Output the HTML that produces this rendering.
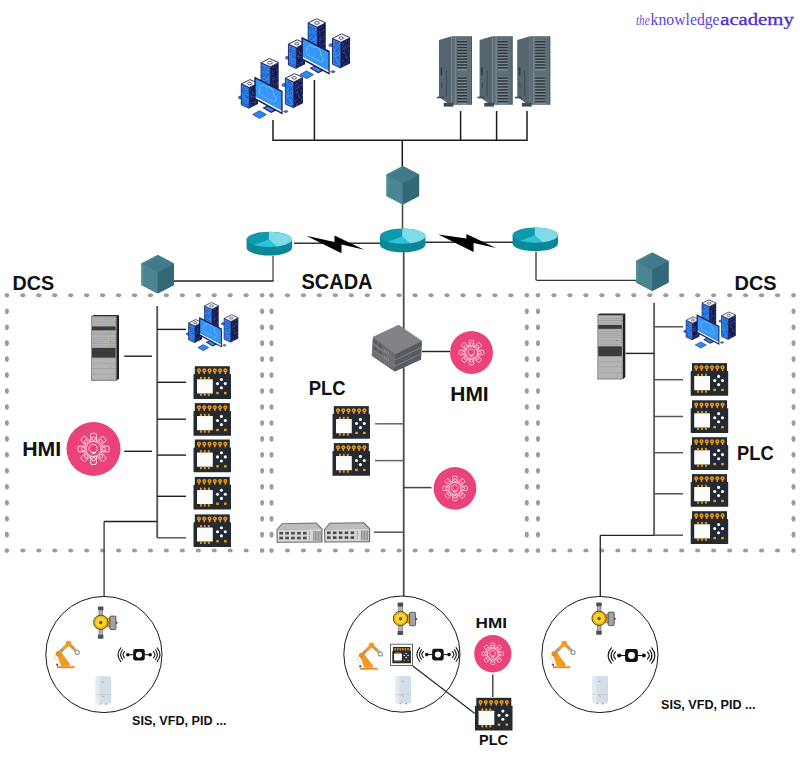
<!DOCTYPE html>
<html><head><meta charset="utf-8"><style>
html,body{margin:0;padding:0;background:#fff;}
svg{display:block;}
text{font-family:"Liberation Sans",sans-serif;}
</style></head><body>
<svg width="800" height="768" viewBox="0 0 800 768">
<defs><g id="plc"><rect x="1.3" y="0.3" width="35" height="9" fill="#242a32"/><rect x="0" y="8.2" width="37.5" height="24.8" rx="0.6" fill="#242a32"/><rect x="4.75" y="4.5" width="1.5" height="3.6" fill="#f39b13"/><circle cx="5.50" cy="4.5" r="2.05" fill="#f39b13"/><circle cx="5.50" cy="4.5" r="0.6" fill="#2a2a2a"/><rect x="10.02" y="4.5" width="1.5" height="3.6" fill="#f39b13"/><circle cx="10.77" cy="4.5" r="2.05" fill="#f39b13"/><circle cx="10.77" cy="4.5" r="0.6" fill="#2a2a2a"/><rect x="15.29" y="4.5" width="1.5" height="3.6" fill="#f39b13"/><circle cx="16.04" cy="4.5" r="2.05" fill="#f39b13"/><circle cx="16.04" cy="4.5" r="0.6" fill="#2a2a2a"/><rect x="20.56" y="4.5" width="1.5" height="3.6" fill="#f39b13"/><circle cx="21.31" cy="4.5" r="2.05" fill="#f39b13"/><circle cx="21.31" cy="4.5" r="0.6" fill="#2a2a2a"/><rect x="25.83" y="4.5" width="1.5" height="3.6" fill="#f39b13"/><circle cx="26.58" cy="4.5" r="2.05" fill="#f39b13"/><circle cx="26.58" cy="4.5" r="0.6" fill="#2a2a2a"/><rect x="31.10" y="4.5" width="1.5" height="3.6" fill="#f39b13"/><circle cx="31.85" cy="4.5" r="2.05" fill="#f39b13"/><circle cx="31.85" cy="4.5" r="0.6" fill="#2a2a2a"/><rect x="3.5" y="13.3" width="15.8" height="14.2" rx="0.5" fill="#fdfdfd"/><rect x="6.50" y="11.0" width="1.8" height="2.4" fill="#f39b13"/><rect x="6.50" y="27.5" width="1.8" height="2.4" fill="#f39b13"/><rect x="10.40" y="11.0" width="1.8" height="2.4" fill="#f39b13"/><rect x="10.40" y="27.5" width="1.8" height="2.4" fill="#f39b13"/><rect x="14.40" y="11.0" width="1.8" height="2.4" fill="#f39b13"/><rect x="14.40" y="27.5" width="1.8" height="2.4" fill="#f39b13"/><circle cx="27.9" cy="13.6" r="1.55" fill="#fdfdfd"/><circle cx="24" cy="17.7" r="1.55" fill="#fdfdfd"/><circle cx="31.8" cy="17.7" r="1.55" fill="#fdfdfd"/><circle cx="27.9" cy="21.8" r="1.55" fill="#fdfdfd"/><rect x="22.7" y="26" width="2.6" height="2.3" fill="#f39b13"/><rect x="30.5" y="26" width="2.6" height="2.3" fill="#f39b13"/></g><g id="hmi"><circle cx="0" cy="0" r="27" fill="#e9437a"/><g fill="none" stroke="#ffffff" stroke-width="0.85" stroke-opacity="0.95"><rect x="-2.9" y="-15.6" width="5.8" height="8.8" rx="1.4" transform="rotate(0)"/><circle cx="0" cy="-10.3" r="1.8" transform="rotate(0)"/><rect x="-2.9" y="-15.6" width="5.8" height="8.8" rx="1.4" transform="rotate(45)"/><circle cx="0" cy="-10.3" r="1.8" transform="rotate(45)"/><rect x="-2.9" y="-15.6" width="5.8" height="8.8" rx="1.4" transform="rotate(90)"/><circle cx="0" cy="-10.3" r="1.8" transform="rotate(90)"/><rect x="-2.9" y="-15.6" width="5.8" height="8.8" rx="1.4" transform="rotate(135)"/><circle cx="0" cy="-10.3" r="1.8" transform="rotate(135)"/><rect x="-2.9" y="-15.6" width="5.8" height="8.8" rx="1.4" transform="rotate(180)"/><circle cx="0" cy="-10.3" r="1.8" transform="rotate(180)"/><rect x="-2.9" y="-15.6" width="5.8" height="8.8" rx="1.4" transform="rotate(225)"/><circle cx="0" cy="-10.3" r="1.8" transform="rotate(225)"/><rect x="-2.9" y="-15.6" width="5.8" height="8.8" rx="1.4" transform="rotate(270)"/><circle cx="0" cy="-10.3" r="1.8" transform="rotate(270)"/><rect x="-2.9" y="-15.6" width="5.8" height="8.8" rx="1.4" transform="rotate(315)"/><circle cx="0" cy="-10.3" r="1.8" transform="rotate(315)"/><circle cx="0" cy="0" r="7.6" fill="#e9437a"/><circle cx="-0.3" cy="-0.5" r="4.2"/><path d="M-2.2 3.6 L2.4 3.6 M-1.2 4.8 L1.6 4.8"/></g></g><g id="ws"><ellipse cx="1.9" cy="32" rx="1.7" ry="1.2" fill="#2e86f2" stroke="#1b1a4c" stroke-width="0.4"/><path d="M18.50 3.90 L25.90 7.23 L25.90 28.23 L18.50 24.90Z" fill="#2e86f2" stroke="#1b1a4c" stroke-width="0.7"/><path d="M25.90 7.23 L32.70 3.83 L32.70 24.83 L25.90 28.23Z" fill="#1b1a4c"/><rect x="21.11" y="8.84" width="0.55" height="0.55" fill="#1d3f9a"/><rect x="23.14" y="8.44" width="0.55" height="0.55" fill="#1d3f9a"/><rect x="22.42" y="13.63" width="0.55" height="0.55" fill="#1d3f9a"/><rect x="19.46" y="14.73" width="0.55" height="0.55" fill="#1d3f9a"/><rect x="19.33" y="13.26" width="0.55" height="0.55" fill="#1d3f9a"/><rect x="19.53" y="6.86" width="0.55" height="0.55" fill="#1d3f9a"/><rect x="21.73" y="22.02" width="0.55" height="0.55" fill="#1d3f9a"/><rect x="19.87" y="9.55" width="0.55" height="0.55" fill="#1d3f9a"/><rect x="22.99" y="25.00" width="0.55" height="0.55" fill="#1d3f9a"/><rect x="22.68" y="14.36" width="0.55" height="0.55" fill="#1d3f9a"/><rect x="25.15" y="9.04" width="0.55" height="0.55" fill="#1d3f9a"/><rect x="24.42" y="13.26" width="0.55" height="0.55" fill="#1d3f9a"/><rect x="19.99" y="7.62" width="0.55" height="0.55" fill="#1d3f9a"/><rect x="21.01" y="21.43" width="0.55" height="0.55" fill="#1d3f9a"/><rect x="20.22" y="16.55" width="0.55" height="0.55" fill="#1d3f9a"/><rect x="23.06" y="14.10" width="0.55" height="0.55" fill="#1d3f9a"/><rect x="22.50" y="7.92" width="0.55" height="0.55" fill="#1d3f9a"/><rect x="19.47" y="9.01" width="0.55" height="0.55" fill="#1d3f9a"/><rect x="23.32" y="15.29" width="0.55" height="0.55" fill="#1d3f9a"/><rect x="21.05" y="17.07" width="0.55" height="0.55" fill="#1d3f9a"/><rect x="21.91" y="12.10" width="0.55" height="0.55" fill="#1d3f9a"/><rect x="24.03" y="20.83" width="0.55" height="0.55" fill="#1d3f9a"/><rect x="20.61" y="16.63" width="0.55" height="0.55" fill="#1d3f9a"/><rect x="22.36" y="23.28" width="0.55" height="0.55" fill="#1d3f9a"/><rect x="23.62" y="12.80" width="0.55" height="0.55" fill="#1d3f9a"/><rect x="25.18" y="10.41" width="0.55" height="0.55" fill="#1d3f9a"/><rect x="21.69" y="20.68" width="0.55" height="0.55" fill="#1d3f9a"/><rect x="20.04" y="14.70" width="0.55" height="0.55" fill="#1d3f9a"/><rect x="19.34" y="17.73" width="0.55" height="0.55" fill="#1d3f9a"/><rect x="23.84" y="18.33" width="0.55" height="0.55" fill="#1d3f9a"/><rect x="24.53" y="13.78" width="0.55" height="0.55" fill="#1d3f9a"/><rect x="23.41" y="18.51" width="0.55" height="0.55" fill="#1d3f9a"/><rect x="22.70" y="15.50" width="0.55" height="0.55" fill="#1d3f9a"/><rect x="24.31" y="25.65" width="0.55" height="0.55" fill="#1d3f9a"/><rect x="22.04" y="19.10" width="0.55" height="0.55" fill="#1d3f9a"/><rect x="19.48" y="18.43" width="0.55" height="0.55" fill="#1d3f9a"/><rect x="23.11" y="25.92" width="0.55" height="0.55" fill="#1d3f9a"/><rect x="24.20" y="13.04" width="0.55" height="0.55" fill="#1d3f9a"/><rect x="21.49" y="18.89" width="0.55" height="0.55" fill="#1d3f9a"/><rect x="19.24" y="13.75" width="0.55" height="0.55" fill="#1d3f9a"/><rect x="20.14" y="7.68" width="0.55" height="0.55" fill="#1d3f9a"/><rect x="19.47" y="19.69" width="0.55" height="0.55" fill="#1d3f9a"/><rect x="19.90" y="10.04" width="0.55" height="0.55" fill="#1d3f9a"/><rect x="21.52" y="22.76" width="0.55" height="0.55" fill="#1d3f9a"/><rect x="19.60" y="13.70" width="0.55" height="0.55" fill="#1d3f9a"/><rect x="22.51" y="23.51" width="0.55" height="0.55" fill="#1d3f9a"/><rect x="24.18" y="24.04" width="0.55" height="0.55" fill="#1d3f9a"/><rect x="20.83" y="13.72" width="0.55" height="0.55" fill="#1d3f9a"/><rect x="21.32" y="22.89" width="0.55" height="0.55" fill="#1d3f9a"/><rect x="25.04" y="10.96" width="0.55" height="0.55" fill="#1d3f9a"/><rect x="20.19" y="9.89" width="0.55" height="0.55" fill="#1d3f9a"/><rect x="20.55" y="14.89" width="0.55" height="0.55" fill="#1d3f9a"/><rect x="22.75" y="11.85" width="0.55" height="0.55" fill="#1d3f9a"/><rect x="19.13" y="12.87" width="0.55" height="0.55" fill="#1d3f9a"/><rect x="21.39" y="16.89" width="0.55" height="0.55" fill="#1d3f9a"/><rect x="25.01" y="21.19" width="0.55" height="0.55" fill="#1d3f9a"/><rect x="22.30" y="18.35" width="0.55" height="0.55" fill="#1d3f9a"/><rect x="23.29" y="8.18" width="0.55" height="0.55" fill="#1d3f9a"/><rect x="24.68" y="22.71" width="0.55" height="0.55" fill="#1d3f9a"/><rect x="24.52" y="22.97" width="0.55" height="0.55" fill="#1d3f9a"/><rect x="21.53" y="13.79" width="0.55" height="0.55" fill="#1d3f9a"/><rect x="19.74" y="17.30" width="0.55" height="0.55" fill="#1d3f9a"/><rect x="19.49" y="6.39" width="0.55" height="0.55" fill="#1d3f9a"/><rect x="20.39" y="8.68" width="0.55" height="0.55" fill="#1d3f9a"/><rect x="21.21" y="7.03" width="0.55" height="0.55" fill="#1d3f9a"/><rect x="19.10" y="7.77" width="0.55" height="0.55" fill="#1d3f9a"/><rect x="19.73" y="12.15" width="0.55" height="0.55" fill="#1d3f9a"/><rect x="19.26" y="21.60" width="0.55" height="0.55" fill="#1d3f9a"/><rect x="22.91" y="9.77" width="0.55" height="0.55" fill="#1d3f9a"/><rect x="20.66" y="12.34" width="0.55" height="0.55" fill="#1d3f9a"/><rect x="21.36" y="8.45" width="0.55" height="0.55" fill="#1d3f9a"/><rect x="24.36" y="26.60" width="0.55" height="0.55" fill="#1d3f9a"/><rect x="21.99" y="15.64" width="0.55" height="0.55" fill="#1d3f9a"/><rect x="19.63" y="7.13" width="0.55" height="0.55" fill="#1d3f9a"/><rect x="21.22" y="11.07" width="0.55" height="0.55" fill="#1d3f9a"/><rect x="24.24" y="10.73" width="0.55" height="0.55" fill="#1d3f9a"/><rect x="19.24" y="23.05" width="0.55" height="0.55" fill="#1d3f9a"/><rect x="22.38" y="9.44" width="0.55" height="0.55" fill="#1d3f9a"/><rect x="22.47" y="7.22" width="0.55" height="0.55" fill="#1d3f9a"/><rect x="22.37" y="25.25" width="0.55" height="0.55" fill="#1d3f9a"/><rect x="24.45" y="21.00" width="0.55" height="0.55" fill="#1d3f9a"/><rect x="20.72" y="12.74" width="0.55" height="0.55" fill="#1d3f9a"/><rect x="20.14" y="20.12" width="0.55" height="0.55" fill="#1d3f9a"/><rect x="22.40" y="21.48" width="0.55" height="0.55" fill="#1d3f9a"/><rect x="21.14" y="10.24" width="0.55" height="0.55" fill="#1d3f9a"/><rect x="31.04" y="24.18" width="0.6" height="0.6" fill="#3466d0"/><rect x="31.27" y="20.65" width="0.6" height="0.6" fill="#3466d0"/><rect x="31.08" y="19.51" width="0.6" height="0.6" fill="#3466d0"/><rect x="27.77" y="17.29" width="0.6" height="0.6" fill="#3466d0"/><rect x="28.49" y="7.57" width="0.6" height="0.6" fill="#3466d0"/><rect x="26.66" y="13.44" width="0.6" height="0.6" fill="#3466d0"/><rect x="27.95" y="20.51" width="0.6" height="0.6" fill="#3466d0"/><rect x="31.86" y="13.48" width="0.6" height="0.6" fill="#3466d0"/><rect x="31.75" y="23.82" width="0.6" height="0.6" fill="#3466d0"/><rect x="31.85" y="11.91" width="0.6" height="0.6" fill="#3466d0"/><rect x="27.73" y="11.79" width="0.6" height="0.6" fill="#3466d0"/><rect x="27.60" y="11.44" width="0.6" height="0.6" fill="#3466d0"/><rect x="29.99" y="23.21" width="0.6" height="0.6" fill="#3466d0"/><rect x="31.21" y="14.48" width="0.6" height="0.6" fill="#3466d0"/><rect x="30.16" y="21.20" width="0.6" height="0.6" fill="#3466d0"/><rect x="26.97" y="20.49" width="0.6" height="0.6" fill="#3466d0"/><rect x="31.59" y="20.00" width="0.6" height="0.6" fill="#3466d0"/><rect x="30.70" y="14.76" width="0.6" height="0.6" fill="#3466d0"/><rect x="27.50" y="22.62" width="0.6" height="0.6" fill="#3466d0"/><rect x="28.36" y="22.32" width="0.6" height="0.6" fill="#3466d0"/><rect x="31.94" y="12.45" width="0.6" height="0.6" fill="#3466d0"/><rect x="28.75" y="24.85" width="0.6" height="0.6" fill="#3466d0"/><rect x="30.56" y="9.00" width="0.6" height="0.6" fill="#3466d0"/><rect x="27.21" y="10.67" width="0.6" height="0.6" fill="#3466d0"/><rect x="31.57" y="20.48" width="0.6" height="0.6" fill="#3466d0"/><rect x="27.32" y="23.44" width="0.6" height="0.6" fill="#3466d0"/><rect x="31.99" y="17.39" width="0.6" height="0.6" fill="#3466d0"/><rect x="28.46" y="17.46" width="0.6" height="0.6" fill="#3466d0"/><rect x="27.23" y="8.06" width="0.6" height="0.6" fill="#3466d0"/><rect x="31.94" y="17.27" width="0.6" height="0.6" fill="#3466d0"/><rect x="29.45" y="24.18" width="0.6" height="0.6" fill="#3466d0"/><rect x="28.93" y="23.32" width="0.6" height="0.6" fill="#3466d0"/><rect x="31.13" y="9.43" width="0.6" height="0.6" fill="#3466d0"/><rect x="27.91" y="12.94" width="0.6" height="0.6" fill="#3466d0"/><rect x="27.85" y="18.55" width="0.6" height="0.6" fill="#3466d0"/><rect x="27.95" y="15.31" width="0.6" height="0.6" fill="#3466d0"/><rect x="27.23" y="25.07" width="0.6" height="0.6" fill="#3466d0"/><rect x="28.48" y="15.73" width="0.6" height="0.6" fill="#3466d0"/><rect x="29.77" y="23.43" width="0.6" height="0.6" fill="#3466d0"/><rect x="28.86" y="24.24" width="0.6" height="0.6" fill="#3466d0"/><rect x="29.31" y="16.63" width="0.6" height="0.6" fill="#3466d0"/><rect x="29.43" y="6.81" width="0.6" height="0.6" fill="#3466d0"/><rect x="28.96" y="10.21" width="0.6" height="0.6" fill="#3466d0"/><rect x="26.52" y="23.40" width="0.6" height="0.6" fill="#3466d0"/><rect x="27.47" y="16.64" width="0.6" height="0.6" fill="#3466d0"/><rect x="30.56" y="16.34" width="0.6" height="0.6" fill="#3466d0"/><rect x="28.33" y="16.97" width="0.6" height="0.6" fill="#3466d0"/><rect x="29.61" y="21.24" width="0.6" height="0.6" fill="#3466d0"/><rect x="27.09" y="18.51" width="0.6" height="0.6" fill="#3466d0"/><path d="M18.50 3.90 L25.90 7.23 L32.70 3.83 L25.30 0.50Z" fill="#f5f7fd" stroke="#1b1a4c" stroke-width="0.7" stroke-linejoin="round"/><ellipse cx="25.60" cy="3.87" rx="1.92" ry="1.11" fill="none" stroke="#1b1a4c" stroke-width="0.55"/><path d="M2.60 21.00 L9.00 23.88 L9.00 40.68 L2.60 37.80Z" fill="#2e86f2" stroke="#1b1a4c" stroke-width="0.7"/><path d="M9.00 23.88 L16.00 20.38 L16.00 37.18 L9.00 40.68Z" fill="#1b1a4c"/><rect x="4.49" y="26.81" width="0.55" height="0.55" fill="#1d3f9a"/><rect x="7.22" y="31.74" width="0.55" height="0.55" fill="#1d3f9a"/><rect x="6.12" y="34.87" width="0.55" height="0.55" fill="#1d3f9a"/><rect x="7.94" y="31.19" width="0.55" height="0.55" fill="#1d3f9a"/><rect x="6.39" y="31.25" width="0.55" height="0.55" fill="#1d3f9a"/><rect x="5.86" y="33.73" width="0.55" height="0.55" fill="#1d3f9a"/><rect x="5.55" y="31.20" width="0.55" height="0.55" fill="#1d3f9a"/><rect x="5.69" y="37.31" width="0.55" height="0.55" fill="#1d3f9a"/><rect x="6.84" y="36.99" width="0.55" height="0.55" fill="#1d3f9a"/><rect x="8.10" y="28.56" width="0.55" height="0.55" fill="#1d3f9a"/><rect x="6.11" y="37.57" width="0.55" height="0.55" fill="#1d3f9a"/><rect x="7.57" y="26.45" width="0.55" height="0.55" fill="#1d3f9a"/><rect x="3.83" y="28.89" width="0.55" height="0.55" fill="#1d3f9a"/><rect x="3.58" y="25.77" width="0.55" height="0.55" fill="#1d3f9a"/><rect x="3.58" y="32.12" width="0.55" height="0.55" fill="#1d3f9a"/><rect x="7.28" y="37.53" width="0.55" height="0.55" fill="#1d3f9a"/><rect x="4.00" y="33.04" width="0.55" height="0.55" fill="#1d3f9a"/><rect x="6.63" y="26.02" width="0.55" height="0.55" fill="#1d3f9a"/><rect x="7.79" y="38.86" width="0.55" height="0.55" fill="#1d3f9a"/><rect x="4.34" y="36.73" width="0.55" height="0.55" fill="#1d3f9a"/><rect x="5.27" y="30.36" width="0.55" height="0.55" fill="#1d3f9a"/><rect x="8.35" y="37.17" width="0.55" height="0.55" fill="#1d3f9a"/><rect x="4.04" y="28.85" width="0.55" height="0.55" fill="#1d3f9a"/><rect x="5.88" y="28.50" width="0.55" height="0.55" fill="#1d3f9a"/><rect x="4.22" y="27.28" width="0.55" height="0.55" fill="#1d3f9a"/><rect x="6.96" y="24.37" width="0.55" height="0.55" fill="#1d3f9a"/><rect x="6.08" y="30.11" width="0.55" height="0.55" fill="#1d3f9a"/><rect x="3.29" y="26.96" width="0.55" height="0.55" fill="#1d3f9a"/><rect x="6.44" y="31.38" width="0.55" height="0.55" fill="#1d3f9a"/><rect x="3.53" y="36.76" width="0.55" height="0.55" fill="#1d3f9a"/><rect x="7.30" y="38.65" width="0.55" height="0.55" fill="#1d3f9a"/><rect x="3.74" y="26.23" width="0.55" height="0.55" fill="#1d3f9a"/><rect x="3.41" y="33.64" width="0.55" height="0.55" fill="#1d3f9a"/><rect x="4.61" y="24.70" width="0.55" height="0.55" fill="#1d3f9a"/><rect x="5.40" y="36.71" width="0.55" height="0.55" fill="#1d3f9a"/><rect x="7.46" y="28.19" width="0.55" height="0.55" fill="#1d3f9a"/><rect x="3.98" y="36.03" width="0.55" height="0.55" fill="#1d3f9a"/><rect x="6.17" y="34.01" width="0.55" height="0.55" fill="#1d3f9a"/><rect x="3.67" y="23.11" width="0.55" height="0.55" fill="#1d3f9a"/><rect x="6.78" y="30.28" width="0.55" height="0.55" fill="#1d3f9a"/><rect x="3.58" y="36.10" width="0.55" height="0.55" fill="#1d3f9a"/><rect x="6.50" y="35.69" width="0.55" height="0.55" fill="#1d3f9a"/><rect x="3.64" y="34.91" width="0.55" height="0.55" fill="#1d3f9a"/><rect x="3.55" y="34.96" width="0.55" height="0.55" fill="#1d3f9a"/><rect x="5.56" y="28.33" width="0.55" height="0.55" fill="#1d3f9a"/><rect x="6.08" y="37.31" width="0.55" height="0.55" fill="#1d3f9a"/><rect x="4.59" y="24.68" width="0.55" height="0.55" fill="#1d3f9a"/><rect x="5.94" y="27.05" width="0.55" height="0.55" fill="#1d3f9a"/><rect x="3.77" y="24.70" width="0.55" height="0.55" fill="#1d3f9a"/><rect x="3.46" y="25.13" width="0.55" height="0.55" fill="#1d3f9a"/><rect x="4.82" y="27.41" width="0.55" height="0.55" fill="#1d3f9a"/><rect x="7.15" y="28.48" width="0.55" height="0.55" fill="#1d3f9a"/><rect x="5.80" y="26.07" width="0.55" height="0.55" fill="#1d3f9a"/><rect x="5.00" y="23.27" width="0.55" height="0.55" fill="#1d3f9a"/><rect x="4.50" y="22.95" width="0.55" height="0.55" fill="#1d3f9a"/><rect x="7.01" y="32.27" width="0.55" height="0.55" fill="#1d3f9a"/><rect x="4.19" y="29.57" width="0.55" height="0.55" fill="#1d3f9a"/><rect x="8.06" y="26.26" width="0.55" height="0.55" fill="#1d3f9a"/><rect x="7.46" y="30.75" width="0.55" height="0.55" fill="#1d3f9a"/><rect x="12.47" y="35.50" width="0.6" height="0.6" fill="#3466d0"/><rect x="11.88" y="31.00" width="0.6" height="0.6" fill="#3466d0"/><rect x="13.59" y="37.01" width="0.6" height="0.6" fill="#3466d0"/><rect x="11.59" y="36.00" width="0.6" height="0.6" fill="#3466d0"/><rect x="13.70" y="31.82" width="0.6" height="0.6" fill="#3466d0"/><rect x="11.95" y="28.61" width="0.6" height="0.6" fill="#3466d0"/><rect x="9.92" y="26.61" width="0.6" height="0.6" fill="#3466d0"/><rect x="10.01" y="35.60" width="0.6" height="0.6" fill="#3466d0"/><rect x="11.08" y="26.40" width="0.6" height="0.6" fill="#3466d0"/><rect x="10.09" y="37.04" width="0.6" height="0.6" fill="#3466d0"/><rect x="14.65" y="31.76" width="0.6" height="0.6" fill="#3466d0"/><rect x="11.24" y="27.48" width="0.6" height="0.6" fill="#3466d0"/><rect x="11.30" y="30.65" width="0.6" height="0.6" fill="#3466d0"/><rect x="10.51" y="30.93" width="0.6" height="0.6" fill="#3466d0"/><rect x="11.13" y="38.19" width="0.6" height="0.6" fill="#3466d0"/><rect x="15.24" y="29.57" width="0.6" height="0.6" fill="#3466d0"/><rect x="11.02" y="38.32" width="0.6" height="0.6" fill="#3466d0"/><rect x="11.40" y="29.07" width="0.6" height="0.6" fill="#3466d0"/><rect x="9.61" y="30.52" width="0.6" height="0.6" fill="#3466d0"/><rect x="12.35" y="30.66" width="0.6" height="0.6" fill="#3466d0"/><rect x="10.77" y="31.65" width="0.6" height="0.6" fill="#3466d0"/><rect x="9.63" y="28.77" width="0.6" height="0.6" fill="#3466d0"/><rect x="10.12" y="30.48" width="0.6" height="0.6" fill="#3466d0"/><rect x="9.84" y="25.07" width="0.6" height="0.6" fill="#3466d0"/><rect x="11.36" y="27.26" width="0.6" height="0.6" fill="#3466d0"/><rect x="13.00" y="30.66" width="0.6" height="0.6" fill="#3466d0"/><rect x="13.95" y="31.98" width="0.6" height="0.6" fill="#3466d0"/><rect x="13.75" y="35.38" width="0.6" height="0.6" fill="#3466d0"/><rect x="11.86" y="28.34" width="0.6" height="0.6" fill="#3466d0"/><rect x="15.31" y="23.65" width="0.6" height="0.6" fill="#3466d0"/><rect x="13.80" y="31.87" width="0.6" height="0.6" fill="#3466d0"/><rect x="9.85" y="37.09" width="0.6" height="0.6" fill="#3466d0"/><rect x="14.77" y="31.04" width="0.6" height="0.6" fill="#3466d0"/><rect x="13.86" y="34.33" width="0.6" height="0.6" fill="#3466d0"/><rect x="10.41" y="32.14" width="0.6" height="0.6" fill="#3466d0"/><rect x="12.53" y="35.47" width="0.6" height="0.6" fill="#3466d0"/><rect x="14.27" y="34.29" width="0.6" height="0.6" fill="#3466d0"/><rect x="12.99" y="36.05" width="0.6" height="0.6" fill="#3466d0"/><rect x="13.56" y="32.75" width="0.6" height="0.6" fill="#3466d0"/><rect x="10.93" y="24.54" width="0.6" height="0.6" fill="#3466d0"/><rect x="10.37" y="29.75" width="0.6" height="0.6" fill="#3466d0"/><path d="M2.60 21.00 L9.00 23.88 L16.00 20.38 L9.60 17.50Z" fill="#f5f7fd" stroke="#1b1a4c" stroke-width="0.7" stroke-linejoin="round"/><ellipse cx="9.30" cy="20.69" rx="1.66" ry="0.96" fill="none" stroke="#1b1a4c" stroke-width="0.55"/><ellipse cx="37" cy="21.8" rx="1.7" ry="1.2" fill="#2e86f2" stroke="#1b1a4c" stroke-width="0.4"/><path d="M19.6 40.2 L24.2 38.2 L31.2 42.2 L26.6 44.4Z" fill="#1b1a4c"/><path d="M21.2 40.3 L24.2 39.1 L29.4 42.1 L26.5 43.4Z" fill="#2e86f2"/><path d="M13.1 15.0 L35.9 26.6 L35.9 45.6 L13.1 33.4Z" fill="#1b1a4c"/><path d="M14.2 31.0 L34.9 42.1 L34.9 43.9 L14.2 32.6Z" fill="#eef2fc"/><path d="M14.2 16.9 L34.9 27.5 L34.9 42.3 L14.2 31.2Z" fill="#3597f7"/><path d="M17.5 25 C18 21.5 21 21 23 23.5 C26 22.5 29.5 26 28.5 30 C31 31 31.5 35 29 35.5 L19.5 30.5 C17 29.5 16.5 26.5 17.5 25Z" fill="none" stroke="#a9d6ff" stroke-width="0.6" stroke-dasharray="0.9 0.5"/><path d="M38.10 16.40 L44.90 19.46 L44.90 40.26 L38.10 37.20Z" fill="#2e86f2" stroke="#1b1a4c" stroke-width="0.7"/><path d="M44.90 19.46 L52.30 15.76 L52.30 36.56 L44.90 40.26Z" fill="#1b1a4c"/><rect x="39.29" y="33.43" width="0.55" height="0.55" fill="#1d3f9a"/><rect x="41.83" y="30.91" width="0.55" height="0.55" fill="#1d3f9a"/><rect x="42.21" y="32.11" width="0.55" height="0.55" fill="#1d3f9a"/><rect x="41.44" y="18.96" width="0.55" height="0.55" fill="#1d3f9a"/><rect x="43.17" y="33.91" width="0.55" height="0.55" fill="#1d3f9a"/><rect x="41.52" y="29.00" width="0.55" height="0.55" fill="#1d3f9a"/><rect x="42.39" y="20.66" width="0.55" height="0.55" fill="#1d3f9a"/><rect x="42.83" y="24.40" width="0.55" height="0.55" fill="#1d3f9a"/><rect x="39.12" y="22.62" width="0.55" height="0.55" fill="#1d3f9a"/><rect x="42.78" y="23.49" width="0.55" height="0.55" fill="#1d3f9a"/><rect x="42.84" y="38.01" width="0.55" height="0.55" fill="#1d3f9a"/><rect x="41.47" y="26.10" width="0.55" height="0.55" fill="#1d3f9a"/><rect x="41.38" y="31.72" width="0.55" height="0.55" fill="#1d3f9a"/><rect x="43.00" y="31.35" width="0.55" height="0.55" fill="#1d3f9a"/><rect x="42.30" y="20.82" width="0.55" height="0.55" fill="#1d3f9a"/><rect x="39.53" y="22.63" width="0.55" height="0.55" fill="#1d3f9a"/><rect x="42.86" y="25.40" width="0.55" height="0.55" fill="#1d3f9a"/><rect x="41.88" y="19.37" width="0.55" height="0.55" fill="#1d3f9a"/><rect x="39.04" y="22.64" width="0.55" height="0.55" fill="#1d3f9a"/><rect x="42.46" y="32.47" width="0.55" height="0.55" fill="#1d3f9a"/><rect x="42.48" y="24.94" width="0.55" height="0.55" fill="#1d3f9a"/><rect x="41.59" y="27.72" width="0.55" height="0.55" fill="#1d3f9a"/><rect x="41.31" y="21.05" width="0.55" height="0.55" fill="#1d3f9a"/><rect x="43.70" y="23.88" width="0.55" height="0.55" fill="#1d3f9a"/><rect x="44.18" y="37.99" width="0.55" height="0.55" fill="#1d3f9a"/><rect x="38.80" y="26.08" width="0.55" height="0.55" fill="#1d3f9a"/><rect x="43.29" y="38.11" width="0.55" height="0.55" fill="#1d3f9a"/><rect x="41.22" y="23.83" width="0.55" height="0.55" fill="#1d3f9a"/><rect x="39.88" y="35.82" width="0.55" height="0.55" fill="#1d3f9a"/><rect x="39.88" y="28.98" width="0.55" height="0.55" fill="#1d3f9a"/><rect x="39.49" y="27.69" width="0.55" height="0.55" fill="#1d3f9a"/><rect x="44.04" y="22.81" width="0.55" height="0.55" fill="#1d3f9a"/><rect x="43.29" y="29.47" width="0.55" height="0.55" fill="#1d3f9a"/><rect x="43.67" y="33.34" width="0.55" height="0.55" fill="#1d3f9a"/><rect x="40.00" y="34.98" width="0.55" height="0.55" fill="#1d3f9a"/><rect x="41.42" y="19.35" width="0.55" height="0.55" fill="#1d3f9a"/><rect x="38.72" y="26.65" width="0.55" height="0.55" fill="#1d3f9a"/><rect x="41.22" y="24.46" width="0.55" height="0.55" fill="#1d3f9a"/><rect x="39.49" y="24.30" width="0.55" height="0.55" fill="#1d3f9a"/><rect x="40.47" y="34.16" width="0.55" height="0.55" fill="#1d3f9a"/><rect x="38.71" y="31.52" width="0.55" height="0.55" fill="#1d3f9a"/><rect x="43.40" y="22.22" width="0.55" height="0.55" fill="#1d3f9a"/><rect x="43.89" y="33.64" width="0.55" height="0.55" fill="#1d3f9a"/><rect x="43.75" y="25.61" width="0.55" height="0.55" fill="#1d3f9a"/><rect x="40.78" y="25.93" width="0.55" height="0.55" fill="#1d3f9a"/><rect x="44.29" y="31.53" width="0.55" height="0.55" fill="#1d3f9a"/><rect x="40.72" y="26.55" width="0.55" height="0.55" fill="#1d3f9a"/><rect x="40.24" y="19.15" width="0.55" height="0.55" fill="#1d3f9a"/><rect x="39.27" y="33.40" width="0.55" height="0.55" fill="#1d3f9a"/><rect x="40.30" y="35.86" width="0.55" height="0.55" fill="#1d3f9a"/><rect x="40.10" y="23.16" width="0.55" height="0.55" fill="#1d3f9a"/><rect x="41.56" y="22.53" width="0.55" height="0.55" fill="#1d3f9a"/><rect x="40.79" y="36.52" width="0.55" height="0.55" fill="#1d3f9a"/><rect x="43.65" y="35.37" width="0.55" height="0.55" fill="#1d3f9a"/><rect x="42.23" y="36.50" width="0.55" height="0.55" fill="#1d3f9a"/><rect x="43.97" y="30.60" width="0.55" height="0.55" fill="#1d3f9a"/><rect x="42.73" y="20.53" width="0.55" height="0.55" fill="#1d3f9a"/><rect x="42.80" y="28.12" width="0.55" height="0.55" fill="#1d3f9a"/><rect x="42.91" y="31.82" width="0.55" height="0.55" fill="#1d3f9a"/><rect x="40.30" y="19.20" width="0.55" height="0.55" fill="#1d3f9a"/><rect x="43.89" y="22.63" width="0.55" height="0.55" fill="#1d3f9a"/><rect x="41.34" y="25.31" width="0.55" height="0.55" fill="#1d3f9a"/><rect x="40.37" y="32.20" width="0.55" height="0.55" fill="#1d3f9a"/><rect x="44.17" y="25.28" width="0.55" height="0.55" fill="#1d3f9a"/><rect x="42.37" y="25.06" width="0.55" height="0.55" fill="#1d3f9a"/><rect x="41.82" y="26.52" width="0.55" height="0.55" fill="#1d3f9a"/><rect x="39.64" y="20.95" width="0.55" height="0.55" fill="#1d3f9a"/><rect x="39.86" y="35.07" width="0.55" height="0.55" fill="#1d3f9a"/><rect x="41.48" y="23.06" width="0.55" height="0.55" fill="#1d3f9a"/><rect x="43.78" y="38.91" width="0.55" height="0.55" fill="#1d3f9a"/><rect x="41.22" y="21.40" width="0.55" height="0.55" fill="#1d3f9a"/><rect x="39.78" y="19.69" width="0.55" height="0.55" fill="#1d3f9a"/><rect x="40.61" y="20.16" width="0.55" height="0.55" fill="#1d3f9a"/><rect x="40.04" y="22.99" width="0.55" height="0.55" fill="#1d3f9a"/><rect x="41.89" y="35.82" width="0.55" height="0.55" fill="#1d3f9a"/><rect x="42.90" y="27.45" width="0.55" height="0.55" fill="#1d3f9a"/><rect x="41.02" y="28.52" width="0.55" height="0.55" fill="#1d3f9a"/><rect x="47.84" y="25.42" width="0.6" height="0.6" fill="#3466d0"/><rect x="45.88" y="25.45" width="0.6" height="0.6" fill="#3466d0"/><rect x="51.50" y="19.25" width="0.6" height="0.6" fill="#3466d0"/><rect x="48.62" y="30.43" width="0.6" height="0.6" fill="#3466d0"/><rect x="50.85" y="21.33" width="0.6" height="0.6" fill="#3466d0"/><rect x="47.18" y="24.13" width="0.6" height="0.6" fill="#3466d0"/><rect x="47.98" y="27.36" width="0.6" height="0.6" fill="#3466d0"/><rect x="51.41" y="32.89" width="0.6" height="0.6" fill="#3466d0"/><rect x="50.91" y="17.64" width="0.6" height="0.6" fill="#3466d0"/><rect x="45.70" y="33.68" width="0.6" height="0.6" fill="#3466d0"/><rect x="51.05" y="26.04" width="0.6" height="0.6" fill="#3466d0"/><rect x="49.14" y="18.29" width="0.6" height="0.6" fill="#3466d0"/><rect x="47.93" y="36.44" width="0.6" height="0.6" fill="#3466d0"/><rect x="50.62" y="33.49" width="0.6" height="0.6" fill="#3466d0"/><rect x="51.53" y="21.53" width="0.6" height="0.6" fill="#3466d0"/><rect x="46.18" y="22.96" width="0.6" height="0.6" fill="#3466d0"/><rect x="48.74" y="31.35" width="0.6" height="0.6" fill="#3466d0"/><rect x="51.34" y="30.55" width="0.6" height="0.6" fill="#3466d0"/><rect x="49.51" y="32.44" width="0.6" height="0.6" fill="#3466d0"/><rect x="48.34" y="29.14" width="0.6" height="0.6" fill="#3466d0"/><rect x="45.75" y="35.02" width="0.6" height="0.6" fill="#3466d0"/><rect x="46.94" y="36.89" width="0.6" height="0.6" fill="#3466d0"/><rect x="49.50" y="23.78" width="0.6" height="0.6" fill="#3466d0"/><rect x="46.29" y="24.72" width="0.6" height="0.6" fill="#3466d0"/><rect x="49.45" y="31.24" width="0.6" height="0.6" fill="#3466d0"/><rect x="46.20" y="21.37" width="0.6" height="0.6" fill="#3466d0"/><rect x="48.75" y="29.48" width="0.6" height="0.6" fill="#3466d0"/><rect x="47.91" y="23.23" width="0.6" height="0.6" fill="#3466d0"/><rect x="49.23" y="18.43" width="0.6" height="0.6" fill="#3466d0"/><rect x="47.37" y="28.01" width="0.6" height="0.6" fill="#3466d0"/><rect x="51.45" y="29.03" width="0.6" height="0.6" fill="#3466d0"/><rect x="50.98" y="26.13" width="0.6" height="0.6" fill="#3466d0"/><rect x="46.96" y="24.24" width="0.6" height="0.6" fill="#3466d0"/><rect x="51.46" y="30.15" width="0.6" height="0.6" fill="#3466d0"/><rect x="47.41" y="19.73" width="0.6" height="0.6" fill="#3466d0"/><rect x="48.59" y="31.30" width="0.6" height="0.6" fill="#3466d0"/><rect x="48.10" y="23.74" width="0.6" height="0.6" fill="#3466d0"/><rect x="49.64" y="35.38" width="0.6" height="0.6" fill="#3466d0"/><rect x="46.91" y="20.26" width="0.6" height="0.6" fill="#3466d0"/><rect x="47.60" y="27.12" width="0.6" height="0.6" fill="#3466d0"/><rect x="49.73" y="21.66" width="0.6" height="0.6" fill="#3466d0"/><rect x="50.44" y="31.41" width="0.6" height="0.6" fill="#3466d0"/><rect x="48.63" y="22.45" width="0.6" height="0.6" fill="#3466d0"/><rect x="51.51" y="22.73" width="0.6" height="0.6" fill="#3466d0"/><rect x="50.58" y="21.77" width="0.6" height="0.6" fill="#3466d0"/><rect x="46.87" y="33.94" width="0.6" height="0.6" fill="#3466d0"/><rect x="47.33" y="37.26" width="0.6" height="0.6" fill="#3466d0"/><rect x="48.57" y="22.15" width="0.6" height="0.6" fill="#3466d0"/><rect x="46.88" y="27.47" width="0.6" height="0.6" fill="#3466d0"/><rect x="49.62" y="35.84" width="0.6" height="0.6" fill="#3466d0"/><rect x="46.41" y="27.32" width="0.6" height="0.6" fill="#3466d0"/><rect x="46.82" y="37.99" width="0.6" height="0.6" fill="#3466d0"/><rect x="46.38" y="20.91" width="0.6" height="0.6" fill="#3466d0"/><path d="M38.10 16.40 L44.90 19.46 L52.30 15.76 L45.50 12.70Z" fill="#f5f7fd" stroke="#1b1a4c" stroke-width="0.7" stroke-linejoin="round"/><ellipse cx="45.20" cy="16.08" rx="1.77" ry="1.02" fill="none" stroke="#1b1a4c" stroke-width="0.55"/><path d="M11.8 45.6 L17.2 42.6 L22.8 45.6 L17.4 48.8Z" fill="#2e86f2" stroke="#1d4fb0" stroke-width="0.7" stroke-linejoin="round"/><path d="M36.6 43.2 L38.5 42.2 L40.4 43.2 L38.5 44.3Z" fill="#2e86f2" stroke="#1b1a4c" stroke-width="0.4"/></g><g id="tower"><path d="M2 4.1 L14.7 0.2 L14.7 70 L2 61Z" fill="#55666e"/><path d="M-0.2 60.7 L6.7 60.7 L6.7 62.3 L-0.2 62.3Z" fill="#3d4b52"/><rect x="14.7" y="0.2" width="20.3" height="68.6" fill="#5d6e77"/><rect x="17.7" y="1.5" width="1.6" height="67" fill="#74848c"/><rect x="34" y="0.6" width="1" height="68" fill="#4a5a62"/><rect x="20" y="4.5" width="10.2" height="30" fill="#7b8a92"/><rect x="20" y="40.5" width="10.2" height="28" fill="#7b8a92"/><path d="M6.7 66.8 L16.5 66.8 L16.5 70.6 L6.7 70.6Z" fill="#3d4b52"/><rect x="20" y="5.00" width="10.2" height="1.5" fill="#2b353a"/><rect x="20" y="7.90" width="10.2" height="1.5" fill="#2b353a"/><rect x="20" y="10.80" width="10.2" height="1.5" fill="#2b353a"/><rect x="20" y="13.70" width="10.2" height="1.5" fill="#2b353a"/><rect x="20" y="16.60" width="10.2" height="1.5" fill="#2b353a"/><rect x="20" y="19.50" width="10.2" height="1.5" fill="#2b353a"/><rect x="20" y="22.40" width="10.2" height="1.5" fill="#2b353a"/><rect x="20" y="25.30" width="10.2" height="1.5" fill="#2b353a"/><rect x="20" y="28.20" width="10.2" height="1.5" fill="#2b353a"/><rect x="20" y="31.10" width="10.2" height="1.5" fill="#2b353a"/><rect x="20" y="41.30" width="10.2" height="1.5" fill="#2b353a"/><rect x="20" y="44.25" width="10.2" height="1.5" fill="#2b353a"/><rect x="20" y="47.20" width="10.2" height="1.5" fill="#2b353a"/><rect x="20" y="50.15" width="10.2" height="1.5" fill="#2b353a"/><rect x="20" y="53.10" width="10.2" height="1.5" fill="#2b353a"/><rect x="20" y="56.05" width="10.2" height="1.5" fill="#2b353a"/><rect x="20" y="59.00" width="10.2" height="1.5" fill="#2b353a"/><rect x="20" y="61.95" width="10.2" height="1.5" fill="#2b353a"/><rect x="20" y="64.90" width="10.2" height="1.5" fill="#2b353a"/><rect x="3.6" y="31.5" width="1.6" height="8" fill="#2e3a40"/><rect x="8.8" y="34.5" width="1.4" height="26" fill="#43525a"/><rect x="4.2" y="46" width="1" height="6" fill="#3a474e"/></g><g id="rack"><path d="M0 1.5 L2.5 0 L28 0 L25.3 1.5Z" fill="#2a2a2a"/><path d="M25.3 1.5 L28 0 L28 63.5 L25.3 66Z" fill="#1e1e1e"/><rect x="0" y="1.5" width="25.3" height="64.5" fill="#8e8e8e"/><rect x="1" y="2.5" width="23.5" height="4.2" rx="0.8" fill="#b4b4b4"/><rect x="1" y="4.60" width="23.5" height="0.5" fill="#9a9a9a"/><rect x="1" y="7.2" width="23.5" height="4.0" rx="0.8" fill="#b4b4b4"/><rect x="1" y="9.20" width="23.5" height="0.5" fill="#9a9a9a"/><rect x="1" y="11.6" width="23.5" height="3.6" rx="0.8" fill="#3a3a3a"/><rect x="1" y="15.8" width="23.5" height="3.8" rx="0.8" fill="#b4b4b4"/><rect x="1" y="17.70" width="23.5" height="0.5" fill="#9a9a9a"/><rect x="1" y="20" width="23.5" height="4.2" rx="0.8" fill="#b4b4b4"/><rect x="1" y="22.10" width="23.5" height="0.5" fill="#9a9a9a"/><rect x="1" y="24.6" width="23.5" height="3.8" rx="0.8" fill="#b4b4b4"/><rect x="1" y="26.50" width="23.5" height="0.5" fill="#9a9a9a"/><rect x="1" y="28.8" width="23.5" height="3.8" rx="0.8" fill="#b4b4b4"/><rect x="1" y="30.70" width="23.5" height="0.5" fill="#9a9a9a"/><rect x="1" y="33.1" width="23.5" height="9.5" rx="0.8" fill="#3a3a3a"/><rect x="1" y="43.2" width="23.5" height="10" rx="0.8" fill="#b4b4b4"/><rect x="1" y="48.20" width="23.5" height="0.5" fill="#9a9a9a"/><rect x="1" y="53.6" width="23.5" height="11.2" rx="0.8" fill="#b4b4b4"/><rect x="1" y="59.20" width="23.5" height="0.5" fill="#9a9a9a"/><circle cx="19.5" cy="4.5" r="0.6" fill="#3ccf5a"/><circle cx="19.5" cy="9.5" r="0.6" fill="#3ccf5a"/><circle cx="19.5" cy="17.6" r="0.6" fill="#3ccf5a"/><circle cx="19.5" cy="22.4" r="0.6" fill="#3ccf5a"/><circle cx="19.5" cy="31.2" r="0.6" fill="#3ccf5a"/><circle cx="19.5" cy="52" r="0.6" fill="#3ccf5a"/><circle cx="19.5" cy="62.5" r="0.6" fill="#3ccf5a"/><circle cx="19.5" cy="27" r="0.6" fill="#e0406a"/></g><g id="cube"><path d="M0 0 L16.3 8.5 L16.3 30 L0 38.5 L-16.3 30 L-16.3 8.5Z" fill="#3f7a88"/><path d="M0 0 L16.3 8.5 L0 17.5 L-16.3 8.5Z" fill="#417b89"/><path d="M-16.3 8.5 L0 17.5 L0 38.5 L-16.3 30Z" fill="#4a8592"/><path d="M16.3 8.5 L0 17.5 L0 38.5 L16.3 30Z" fill="#336877"/><path d="M-15.100000000000001 10.0 L-15.100000000000001 29.2" stroke="#5c98a4" stroke-width="1"/><path d="M-13.8 8.3 L-1 1.9" stroke="#5a8f9c" stroke-width="0.8"/></g><g id="router"><path d="M-22.7 0 L-22.7 8.6 A22.7 7.6 0 0 0 22.7 8.6 L22.7 0Z" fill="#0b8896"/><ellipse cx="0" cy="0" rx="22.7" ry="7.6" fill="#0e9aab"/><path d="M-0.5 0.3 L-0.40 -7.60 A22.7 7.6 0 0 1 7.01 7.23Z" fill="#7fdbe8"/><path d="M-0.5 0.3 L7.01 7.23 A22.7 7.6 0 0 1 -15.19 5.65Z" fill="#2cc2d7"/></g><g id="fsw"><path d="M0.5 7 L6 0.6 L40.5 0 L46.5 6.2 L46.5 20 L0.7 20.2Z" fill="#6a6a6a"/><path d="M1.5 7.2 L6.5 1.5 L40 1 L45.3 6.5Z" fill="#bdbdbd"/><path d="M1.5 7.2 L45.3 6.5 L45.3 19 L1.7 19.2Z" fill="#d6d6d6"/><rect x="3.40" y="9.30" width="3.6" height="2.6" fill="#4a4a4a"/><rect x="9.30" y="9.30" width="3.6" height="2.6" fill="#4a4a4a"/><rect x="15.20" y="9.30" width="3.6" height="2.6" fill="#4a4a4a"/><rect x="21.10" y="9.30" width="3.6" height="2.6" fill="#4a4a4a"/><rect x="27.00" y="9.30" width="3.6" height="2.6" fill="#4a4a4a"/><rect x="3.40" y="14.10" width="3.6" height="2.6" fill="#4a4a4a"/><rect x="9.30" y="14.10" width="3.6" height="2.6" fill="#4a4a4a"/><rect x="15.20" y="14.10" width="3.6" height="2.6" fill="#4a4a4a"/><rect x="21.10" y="14.10" width="3.6" height="2.6" fill="#4a4a4a"/><rect x="27.00" y="14.10" width="3.6" height="2.6" fill="#4a4a4a"/><rect x="37" y="8.3" width="8" height="10" fill="#c4c4c4"/><rect x="37.50" y="8.5" width="0.7" height="9.5" fill="#7e7e7e"/><rect x="39.05" y="8.5" width="0.7" height="9.5" fill="#7e7e7e"/><rect x="40.60" y="8.5" width="0.7" height="9.5" fill="#7e7e7e"/><rect x="42.15" y="8.5" width="0.7" height="9.5" fill="#7e7e7e"/><rect x="43.70" y="8.5" width="0.7" height="9.5" fill="#7e7e7e"/><rect x="33.2" y="9.00" width="1" height="1" fill="#3bb54a"/><rect x="33.2" y="11.20" width="1" height="1" fill="#3bb54a"/><rect x="33.2" y="13.40" width="1" height="1" fill="#3bb54a"/><rect x="33.2" y="15.60" width="1" height="1" fill="#3bb54a"/></g></defs>
<rect width="800" height="768" fill="#fff"/>
<g fill="#9c9c9c"><ellipse cx="6.90" cy="295.30" rx="2.3" ry="2.3"/><ellipse cx="6.90" cy="550.60" rx="2.3" ry="2.3"/><ellipse cx="22.85" cy="295.30" rx="2.6" ry="2.0"/><ellipse cx="22.85" cy="550.60" rx="2.6" ry="2.0"/><ellipse cx="38.80" cy="295.30" rx="2.6" ry="2.0"/><ellipse cx="38.80" cy="550.60" rx="2.6" ry="2.0"/><ellipse cx="54.75" cy="295.30" rx="2.6" ry="2.0"/><ellipse cx="54.75" cy="550.60" rx="2.6" ry="2.0"/><ellipse cx="70.70" cy="295.30" rx="2.6" ry="2.0"/><ellipse cx="70.70" cy="550.60" rx="2.6" ry="2.0"/><ellipse cx="86.65" cy="295.30" rx="2.6" ry="2.0"/><ellipse cx="86.65" cy="550.60" rx="2.6" ry="2.0"/><ellipse cx="102.60" cy="295.30" rx="2.6" ry="2.0"/><ellipse cx="102.60" cy="550.60" rx="2.6" ry="2.0"/><ellipse cx="118.55" cy="295.30" rx="2.6" ry="2.0"/><ellipse cx="118.55" cy="550.60" rx="2.6" ry="2.0"/><ellipse cx="134.50" cy="295.30" rx="2.6" ry="2.0"/><ellipse cx="134.50" cy="550.60" rx="2.6" ry="2.0"/><ellipse cx="150.45" cy="295.30" rx="2.6" ry="2.0"/><ellipse cx="150.45" cy="550.60" rx="2.6" ry="2.0"/><ellipse cx="166.40" cy="295.30" rx="2.6" ry="2.0"/><ellipse cx="166.40" cy="550.60" rx="2.6" ry="2.0"/><ellipse cx="182.35" cy="295.30" rx="2.6" ry="2.0"/><ellipse cx="182.35" cy="550.60" rx="2.6" ry="2.0"/><ellipse cx="198.30" cy="295.30" rx="2.6" ry="2.0"/><ellipse cx="198.30" cy="550.60" rx="2.6" ry="2.0"/><ellipse cx="214.25" cy="295.30" rx="2.6" ry="2.0"/><ellipse cx="214.25" cy="550.60" rx="2.6" ry="2.0"/><ellipse cx="230.20" cy="295.30" rx="2.6" ry="2.0"/><ellipse cx="230.20" cy="550.60" rx="2.6" ry="2.0"/><ellipse cx="246.15" cy="295.30" rx="2.6" ry="2.0"/><ellipse cx="246.15" cy="550.60" rx="2.6" ry="2.0"/><ellipse cx="262.10" cy="295.30" rx="2.3" ry="2.3"/><ellipse cx="262.10" cy="550.60" rx="2.3" ry="2.3"/><ellipse cx="6.90" cy="311.26" rx="2.0" ry="2.8"/><ellipse cx="262.10" cy="311.26" rx="2.0" ry="2.8"/><ellipse cx="6.90" cy="327.21" rx="2.0" ry="2.8"/><ellipse cx="262.10" cy="327.21" rx="2.0" ry="2.8"/><ellipse cx="6.90" cy="343.17" rx="2.0" ry="2.8"/><ellipse cx="262.10" cy="343.17" rx="2.0" ry="2.8"/><ellipse cx="6.90" cy="359.12" rx="2.0" ry="2.8"/><ellipse cx="262.10" cy="359.12" rx="2.0" ry="2.8"/><ellipse cx="6.90" cy="375.08" rx="2.0" ry="2.8"/><ellipse cx="262.10" cy="375.08" rx="2.0" ry="2.8"/><ellipse cx="6.90" cy="391.04" rx="2.0" ry="2.8"/><ellipse cx="262.10" cy="391.04" rx="2.0" ry="2.8"/><ellipse cx="6.90" cy="406.99" rx="2.0" ry="2.8"/><ellipse cx="262.10" cy="406.99" rx="2.0" ry="2.8"/><ellipse cx="6.90" cy="422.95" rx="2.0" ry="2.8"/><ellipse cx="262.10" cy="422.95" rx="2.0" ry="2.8"/><ellipse cx="6.90" cy="438.91" rx="2.0" ry="2.8"/><ellipse cx="262.10" cy="438.91" rx="2.0" ry="2.8"/><ellipse cx="6.90" cy="454.86" rx="2.0" ry="2.8"/><ellipse cx="262.10" cy="454.86" rx="2.0" ry="2.8"/><ellipse cx="6.90" cy="470.82" rx="2.0" ry="2.8"/><ellipse cx="262.10" cy="470.82" rx="2.0" ry="2.8"/><ellipse cx="6.90" cy="486.78" rx="2.0" ry="2.8"/><ellipse cx="262.10" cy="486.78" rx="2.0" ry="2.8"/><ellipse cx="6.90" cy="502.73" rx="2.0" ry="2.8"/><ellipse cx="262.10" cy="502.73" rx="2.0" ry="2.8"/><ellipse cx="6.90" cy="518.69" rx="2.0" ry="2.8"/><ellipse cx="262.10" cy="518.69" rx="2.0" ry="2.8"/><ellipse cx="6.90" cy="534.64" rx="2.0" ry="2.8"/><ellipse cx="262.10" cy="534.64" rx="2.0" ry="2.8"/></g>
<g fill="#9c9c9c"><ellipse cx="271.50" cy="295.30" rx="2.3" ry="2.3"/><ellipse cx="271.50" cy="550.60" rx="2.3" ry="2.3"/><ellipse cx="287.46" cy="295.30" rx="2.6" ry="2.0"/><ellipse cx="287.46" cy="550.60" rx="2.6" ry="2.0"/><ellipse cx="303.41" cy="295.30" rx="2.6" ry="2.0"/><ellipse cx="303.41" cy="550.60" rx="2.6" ry="2.0"/><ellipse cx="319.37" cy="295.30" rx="2.6" ry="2.0"/><ellipse cx="319.37" cy="550.60" rx="2.6" ry="2.0"/><ellipse cx="335.32" cy="295.30" rx="2.6" ry="2.0"/><ellipse cx="335.32" cy="550.60" rx="2.6" ry="2.0"/><ellipse cx="351.28" cy="295.30" rx="2.6" ry="2.0"/><ellipse cx="351.28" cy="550.60" rx="2.6" ry="2.0"/><ellipse cx="367.24" cy="295.30" rx="2.6" ry="2.0"/><ellipse cx="367.24" cy="550.60" rx="2.6" ry="2.0"/><ellipse cx="383.19" cy="295.30" rx="2.6" ry="2.0"/><ellipse cx="383.19" cy="550.60" rx="2.6" ry="2.0"/><ellipse cx="399.15" cy="295.30" rx="2.6" ry="2.0"/><ellipse cx="399.15" cy="550.60" rx="2.6" ry="2.0"/><ellipse cx="415.11" cy="295.30" rx="2.6" ry="2.0"/><ellipse cx="415.11" cy="550.60" rx="2.6" ry="2.0"/><ellipse cx="431.06" cy="295.30" rx="2.6" ry="2.0"/><ellipse cx="431.06" cy="550.60" rx="2.6" ry="2.0"/><ellipse cx="447.02" cy="295.30" rx="2.6" ry="2.0"/><ellipse cx="447.02" cy="550.60" rx="2.6" ry="2.0"/><ellipse cx="462.97" cy="295.30" rx="2.6" ry="2.0"/><ellipse cx="462.97" cy="550.60" rx="2.6" ry="2.0"/><ellipse cx="478.93" cy="295.30" rx="2.6" ry="2.0"/><ellipse cx="478.93" cy="550.60" rx="2.6" ry="2.0"/><ellipse cx="494.89" cy="295.30" rx="2.6" ry="2.0"/><ellipse cx="494.89" cy="550.60" rx="2.6" ry="2.0"/><ellipse cx="510.84" cy="295.30" rx="2.6" ry="2.0"/><ellipse cx="510.84" cy="550.60" rx="2.6" ry="2.0"/><ellipse cx="526.80" cy="295.30" rx="2.3" ry="2.3"/><ellipse cx="526.80" cy="550.60" rx="2.3" ry="2.3"/><ellipse cx="271.50" cy="311.26" rx="2.0" ry="2.8"/><ellipse cx="526.80" cy="311.26" rx="2.0" ry="2.8"/><ellipse cx="271.50" cy="327.21" rx="2.0" ry="2.8"/><ellipse cx="526.80" cy="327.21" rx="2.0" ry="2.8"/><ellipse cx="271.50" cy="343.17" rx="2.0" ry="2.8"/><ellipse cx="526.80" cy="343.17" rx="2.0" ry="2.8"/><ellipse cx="271.50" cy="359.12" rx="2.0" ry="2.8"/><ellipse cx="526.80" cy="359.12" rx="2.0" ry="2.8"/><ellipse cx="271.50" cy="375.08" rx="2.0" ry="2.8"/><ellipse cx="526.80" cy="375.08" rx="2.0" ry="2.8"/><ellipse cx="271.50" cy="391.04" rx="2.0" ry="2.8"/><ellipse cx="526.80" cy="391.04" rx="2.0" ry="2.8"/><ellipse cx="271.50" cy="406.99" rx="2.0" ry="2.8"/><ellipse cx="526.80" cy="406.99" rx="2.0" ry="2.8"/><ellipse cx="271.50" cy="422.95" rx="2.0" ry="2.8"/><ellipse cx="526.80" cy="422.95" rx="2.0" ry="2.8"/><ellipse cx="271.50" cy="438.91" rx="2.0" ry="2.8"/><ellipse cx="526.80" cy="438.91" rx="2.0" ry="2.8"/><ellipse cx="271.50" cy="454.86" rx="2.0" ry="2.8"/><ellipse cx="526.80" cy="454.86" rx="2.0" ry="2.8"/><ellipse cx="271.50" cy="470.82" rx="2.0" ry="2.8"/><ellipse cx="526.80" cy="470.82" rx="2.0" ry="2.8"/><ellipse cx="271.50" cy="486.78" rx="2.0" ry="2.8"/><ellipse cx="526.80" cy="486.78" rx="2.0" ry="2.8"/><ellipse cx="271.50" cy="502.73" rx="2.0" ry="2.8"/><ellipse cx="526.80" cy="502.73" rx="2.0" ry="2.8"/><ellipse cx="271.50" cy="518.69" rx="2.0" ry="2.8"/><ellipse cx="526.80" cy="518.69" rx="2.0" ry="2.8"/><ellipse cx="271.50" cy="534.64" rx="2.0" ry="2.8"/><ellipse cx="526.80" cy="534.64" rx="2.0" ry="2.8"/></g>
<g fill="#9c9c9c"><ellipse cx="538.00" cy="295.30" rx="2.3" ry="2.3"/><ellipse cx="538.00" cy="550.60" rx="2.3" ry="2.3"/><ellipse cx="553.97" cy="295.30" rx="2.6" ry="2.0"/><ellipse cx="553.97" cy="550.60" rx="2.6" ry="2.0"/><ellipse cx="569.94" cy="295.30" rx="2.6" ry="2.0"/><ellipse cx="569.94" cy="550.60" rx="2.6" ry="2.0"/><ellipse cx="585.91" cy="295.30" rx="2.6" ry="2.0"/><ellipse cx="585.91" cy="550.60" rx="2.6" ry="2.0"/><ellipse cx="601.88" cy="295.30" rx="2.6" ry="2.0"/><ellipse cx="601.88" cy="550.60" rx="2.6" ry="2.0"/><ellipse cx="617.84" cy="295.30" rx="2.6" ry="2.0"/><ellipse cx="617.84" cy="550.60" rx="2.6" ry="2.0"/><ellipse cx="633.81" cy="295.30" rx="2.6" ry="2.0"/><ellipse cx="633.81" cy="550.60" rx="2.6" ry="2.0"/><ellipse cx="649.78" cy="295.30" rx="2.6" ry="2.0"/><ellipse cx="649.78" cy="550.60" rx="2.6" ry="2.0"/><ellipse cx="665.75" cy="295.30" rx="2.6" ry="2.0"/><ellipse cx="665.75" cy="550.60" rx="2.6" ry="2.0"/><ellipse cx="681.72" cy="295.30" rx="2.6" ry="2.0"/><ellipse cx="681.72" cy="550.60" rx="2.6" ry="2.0"/><ellipse cx="697.69" cy="295.30" rx="2.6" ry="2.0"/><ellipse cx="697.69" cy="550.60" rx="2.6" ry="2.0"/><ellipse cx="713.66" cy="295.30" rx="2.6" ry="2.0"/><ellipse cx="713.66" cy="550.60" rx="2.6" ry="2.0"/><ellipse cx="729.62" cy="295.30" rx="2.6" ry="2.0"/><ellipse cx="729.62" cy="550.60" rx="2.6" ry="2.0"/><ellipse cx="745.59" cy="295.30" rx="2.6" ry="2.0"/><ellipse cx="745.59" cy="550.60" rx="2.6" ry="2.0"/><ellipse cx="761.56" cy="295.30" rx="2.6" ry="2.0"/><ellipse cx="761.56" cy="550.60" rx="2.6" ry="2.0"/><ellipse cx="777.53" cy="295.30" rx="2.6" ry="2.0"/><ellipse cx="777.53" cy="550.60" rx="2.6" ry="2.0"/><ellipse cx="793.50" cy="295.30" rx="2.3" ry="2.3"/><ellipse cx="793.50" cy="550.60" rx="2.3" ry="2.3"/><ellipse cx="538.00" cy="311.26" rx="2.0" ry="2.8"/><ellipse cx="793.50" cy="311.26" rx="2.0" ry="2.8"/><ellipse cx="538.00" cy="327.21" rx="2.0" ry="2.8"/><ellipse cx="793.50" cy="327.21" rx="2.0" ry="2.8"/><ellipse cx="538.00" cy="343.17" rx="2.0" ry="2.8"/><ellipse cx="793.50" cy="343.17" rx="2.0" ry="2.8"/><ellipse cx="538.00" cy="359.12" rx="2.0" ry="2.8"/><ellipse cx="793.50" cy="359.12" rx="2.0" ry="2.8"/><ellipse cx="538.00" cy="375.08" rx="2.0" ry="2.8"/><ellipse cx="793.50" cy="375.08" rx="2.0" ry="2.8"/><ellipse cx="538.00" cy="391.04" rx="2.0" ry="2.8"/><ellipse cx="793.50" cy="391.04" rx="2.0" ry="2.8"/><ellipse cx="538.00" cy="406.99" rx="2.0" ry="2.8"/><ellipse cx="793.50" cy="406.99" rx="2.0" ry="2.8"/><ellipse cx="538.00" cy="422.95" rx="2.0" ry="2.8"/><ellipse cx="793.50" cy="422.95" rx="2.0" ry="2.8"/><ellipse cx="538.00" cy="438.91" rx="2.0" ry="2.8"/><ellipse cx="793.50" cy="438.91" rx="2.0" ry="2.8"/><ellipse cx="538.00" cy="454.86" rx="2.0" ry="2.8"/><ellipse cx="793.50" cy="454.86" rx="2.0" ry="2.8"/><ellipse cx="538.00" cy="470.82" rx="2.0" ry="2.8"/><ellipse cx="793.50" cy="470.82" rx="2.0" ry="2.8"/><ellipse cx="538.00" cy="486.78" rx="2.0" ry="2.8"/><ellipse cx="793.50" cy="486.78" rx="2.0" ry="2.8"/><ellipse cx="538.00" cy="502.73" rx="2.0" ry="2.8"/><ellipse cx="793.50" cy="502.73" rx="2.0" ry="2.8"/><ellipse cx="538.00" cy="518.69" rx="2.0" ry="2.8"/><ellipse cx="793.50" cy="518.69" rx="2.0" ry="2.8"/><ellipse cx="538.00" cy="534.64" rx="2.0" ry="2.8"/><ellipse cx="793.50" cy="534.64" rx="2.0" ry="2.8"/></g>
<path d="M273 120 L273 140.3 L527 140.3 L527 111" fill="none" stroke="#1c1c1c" stroke-width="1.5"/>
<path d="M314.4 80 L314.4 140.3" fill="none" stroke="#1c1c1c" stroke-width="1.5"/>
<path d="M460.6 111 L460.6 140.3" fill="none" stroke="#1c1c1c" stroke-width="1.5"/>
<path d="M496.6 111 L496.6 140.3" fill="none" stroke="#1c1c1c" stroke-width="1.5"/>
<path d="M402.3 140.3 L402.3 166" fill="none" stroke="#1c1c1c" stroke-width="1.5"/>
<path d="M402.5 204 L402.5 229" fill="none" stroke="#444" stroke-width="1.5"/>
<path d="M294 243.3 L380 243.3" fill="none" stroke="#333" stroke-width="1.4"/>
<path d="M425 242.3 L513 242.3" fill="none" stroke="#333" stroke-width="1.4"/>
<path d="M273 256 L273 281" fill="none" stroke="#6a6a6a" stroke-width="1.6"/>
<path d="M273.5 281 L174 281" fill="none" stroke="#222" stroke-width="1.3"/>
<path d="M536 252 L536 280.3" fill="none" stroke="#555" stroke-width="1.6"/>
<path d="M536.5 280.3 L636 280.3" fill="none" stroke="#333" stroke-width="1.3"/>
<path d="M403.7 251 L403.7 596" fill="none" stroke="#4a4a4a" stroke-width="1.8"/>
<path d="M306.2 235.8 L334.5 241.9 L334.5 235.4 L364.3 249.8 L341.5 244.5 L341.5 253.2Z" fill="#000"/>
<path d="M438.4 234.4 L466.4 238.6 L466.4 234.0 L496.0 248.0 L473.6 243.0 L473.6 252.0Z" fill="#000"/>
<use href="#router" x="269.3" y="239.3"/>
<use href="#router" x="402.7" y="236.1"/>
<use href="#router" x="535.3" y="235.0"/>
<use href="#cube" x="402.8" y="165.9"/>
<use href="#cube" x="157.7" y="255"/>
<use href="#cube" x="652.3" y="252.5"/>
<use href="#ws" transform="translate(285.2,18.1) scale(1.24)"/>
<use href="#ws" transform="translate(238.1,57.9) scale(1.24)"/>
<use href="#tower" x="437" y="36"/>
<use href="#tower" x="477.6" y="36"/>
<use href="#tower" x="515.2" y="36"/>
<text x="636" y="24.6" style="font-family:&quot;Liberation Serif&quot;" font-style="italic" font-size="14" fill="#6a4fdb" textLength="13.6" lengthAdjust="spacingAndGlyphs">the</text>
<text x="650.6" y="24.6" style="font-family:&quot;Liberation Serif&quot;" font-size="17.3" fill="#5e45d6" textLength="69" lengthAdjust="spacingAndGlyphs">knowledge</text>
<text x="720.2" y="24.6" style="font-family:&quot;Liberation Serif&quot;" font-size="17.3" fill="#4f31c9" stroke="#4f31c9" stroke-width="0.35" textLength="73.6" lengthAdjust="spacingAndGlyphs">academy</text>
<text x="12.5" y="290.0" style="font-family:&quot;Liberation Sans&quot;" font-weight="bold" font-size="21.12" fill="#111" textLength="41.59" lengthAdjust="spacingAndGlyphs">DCS</text>
<text x="301.5" y="289.0" style="font-family:&quot;Liberation Sans&quot;" font-weight="bold" font-size="21.86" fill="#111" textLength="71.04" lengthAdjust="spacingAndGlyphs">SCADA</text>
<text x="734.5" y="290.0" style="font-family:&quot;Liberation Sans&quot;" font-weight="bold" font-size="21.12" fill="#111" textLength="42.09" lengthAdjust="spacingAndGlyphs">DCS</text>
<path d="M157.2 306 L157.2 537.8" fill="none" stroke="#5a5a5a" stroke-width="1.9"/>
<path d="M157.2 537.8 L186 537.8" fill="none" stroke="#5a5a5a" stroke-width="1.5"/>
<path d="M157.2 329.4 L186 329.4" fill="none" stroke="#1e1e1e" stroke-width="1.4"/>
<path d="M157.2 382.3 L186 382.3" fill="none" stroke="#1e1e1e" stroke-width="1.4"/>
<path d="M157.2 419.2 L186 419.2" fill="none" stroke="#1e1e1e" stroke-width="1.4"/>
<path d="M157.2 455.1 L186 455.1" fill="none" stroke="#1e1e1e" stroke-width="1.4"/>
<path d="M157.2 496.3 L186 496.3" fill="none" stroke="#1e1e1e" stroke-width="1.4"/>
<path d="M124.2 356.2 L152 356.2" fill="none" stroke="#1e1e1e" stroke-width="1.4"/>
<path d="M124.2 451.3 L152 451.3" fill="none" stroke="#1e1e1e" stroke-width="1.4"/>
<path d="M104.1 596 L104.1 521.5" fill="none" stroke="#444" stroke-width="1.4"/>
<path d="M104.1 521.5 L157.2 521.5" fill="none" stroke="#1e1e1e" stroke-width="1.3"/>
<use href="#rack" x="91" y="315"/>
<use href="#ws" x="186" y="302"/>
<use href="#plc" x="193.5" y="365.9"/>
<use href="#plc" x="193.5" y="402.8"/>
<use href="#plc" x="193.5" y="439.2"/>
<use href="#plc" x="193.5" y="476.6"/>
<use href="#plc" x="193.5" y="514.1"/>
<use href="#hmi" x="93.5" y="448.9"/>
<text x="22.25" y="456.0" style="font-family:&quot;Liberation Sans&quot;" font-weight="bold" font-size="19.63" fill="#111" textLength="38.92" lengthAdjust="spacingAndGlyphs">HMI</text>
<path d="M422 351.5 L450 351.5" fill="none" stroke="#222" stroke-width="1.4"/>
<path d="M375 423.8 L403.7 423.8" fill="none" stroke="#666" stroke-width="1.5"/>
<path d="M375 460.6 L403.7 460.6" fill="none" stroke="#666" stroke-width="1.5"/>
<path d="M403.7 487.6 L431.5 487.6" fill="none" stroke="#444" stroke-width="1.5"/>
<path d="M374 532.2 L403.7 532.2" fill="none" stroke="#555" stroke-width="1.5"/>
<use href="#plc" x="332.5" y="405.8"/>
<use href="#plc" x="332.5" y="442.8"/>
<use href="#hmi" transform="translate(471.5,352.5) scale(0.795)"/>
<use href="#hmi" transform="translate(455,488.4) scale(0.79)"/>
<text x="308.75" y="395.0" style="font-family:&quot;Liberation Sans&quot;" font-weight="bold" font-size="21.09" fill="#111" textLength="36.87" lengthAdjust="spacingAndGlyphs">PLC</text>
<text x="450.25" y="401.0" style="font-family:&quot;Liberation Sans&quot;" font-weight="bold" font-size="19.63" fill="#111" textLength="38.46" lengthAdjust="spacingAndGlyphs">HMI</text>
<g><path d="M373 337 L398.6 325 L421.8 341 L421 359.5 L394.7 371.5 L371.8 355.7Z" fill="#62656b"/><path d="M373 337 L395.3 354.3 L394.7 371.5 L371.8 355.7Z" fill="#6b6d71"/><path d="M395.3 354.3 L421.8 341 L421 359.5 L394.7 371.5Z" fill="#575b62"/><path d="M373 337 L398.6 325 L421.8 341 L395.3 354.3Z" fill="#818387"/><path d="M372.6 343.3 L395.2 360 L421.7 347.2 M372.3 349.6 L395 366.2 L421.5 353.5" fill="none" stroke="#8a8c90" stroke-width="0.8"/><path d="M373.8 339.5 L377 341.8 L377 345 L373.8 342.8Z M378.5 342.8 L381.5 345 L381.5 348.2 L378.5 346Z M373.6 346 L377 348.3 L377 351.3 L373.6 349Z M378.5 349.4 L381.5 351.5 L381.5 354.5 L378.5 352.4Z" fill="#56585c"/><path d="M384.5 349 L384.5 352 M386.5 350.3 L386.5 353.3 M388.5 351.6 L388.5 354.6 M384.5 355.3 L384.5 358.3 M386.5 356.6 L386.5 359.6 M388.5 357.9 L388.5 360.9 M384.5 361.6 L384.5 364.6 M386.5 362.9 L386.5 365.9 M388.5 364.2 L388.5 367.2" stroke="#8d8f93" stroke-width="0.7"/></g>
<use href="#fsw" x="276" y="522.6"/>
<use href="#fsw" x="323.6" y="522.2"/>
<path d="M654.1 302.8 L654.1 535.2" fill="none" stroke="#606060" stroke-width="1.9"/>
<path d="M654.1 535.2 L683 535.2" fill="none" stroke="#555" stroke-width="1.5"/>
<path d="M600.3 596.5 L600.3 535.3" fill="none" stroke="#333" stroke-width="1.4"/>
<path d="M600.3 535.3 L654.1 535.3" fill="none" stroke="#222" stroke-width="1.3"/>
<path d="M654.1 326.8 L683 326.8" fill="none" stroke="#555" stroke-width="1.5"/>
<path d="M654.1 379.7 L683 379.7" fill="none" stroke="#555" stroke-width="1.5"/>
<path d="M654.1 416.5 L683 416.5" fill="none" stroke="#555" stroke-width="1.5"/>
<path d="M654.1 452.7 L683 452.7" fill="none" stroke="#555" stroke-width="1.5"/>
<path d="M654.1 493.8 L683 493.8" fill="none" stroke="#555" stroke-width="1.5"/>
<path d="M625.6 353.4 L654.1 353.4" fill="none" stroke="#222" stroke-width="1.4"/>
<use href="#rack" x="597.3" y="313.5"/>
<use href="#ws" x="683.5" y="299.3"/>
<use href="#plc" x="690.7" y="362.8"/>
<use href="#plc" x="690.7" y="400"/>
<use href="#plc" x="690.7" y="436.9"/>
<use href="#plc" x="690.7" y="473.8"/>
<use href="#plc" x="690.7" y="510.9"/>
<text x="737.0" y="460.0" style="font-family:&quot;Liberation Sans&quot;" font-weight="bold" font-size="21.09" fill="#111" textLength="36.61" lengthAdjust="spacingAndGlyphs">PLC</text>
<circle cx="103.9" cy="654.5" r="58.1" fill="none" stroke="#1a1a1a" stroke-width="1.0"/>
<circle cx="401.9" cy="654.1" r="58.1" fill="none" stroke="#1a1a1a" stroke-width="1.0"/>
<circle cx="599.9" cy="654.5" r="58.1" fill="none" stroke="#1a1a1a" stroke-width="1.0"/>
<g transform="translate(92.7,606.5)"><rect x="6.3" y="2" width="3.7" height="28" fill="#b3b3b3" stroke="#555" stroke-width="0.5"/><rect x="5.2" y="-0.1" width="5.5" height="3.9" rx="0.6" fill="#4f4f4f"/><rect x="5.2" y="28.3" width="5.5" height="3.9" rx="0.6" fill="#4f4f4f"/><path d="M13.5 12.5 L17.6 11 L17.6 21 L13.5 19.5Z" fill="#e6a817" stroke="#555" stroke-width="0.5"/><rect x="17.2" y="9.6" width="6" height="13.5" rx="1" fill="#a3a3a3" stroke="#4b4b4b" stroke-width="0.9"/><circle cx="23.9" cy="16.3" r="1" fill="#b5121b"/><circle cx="8.1" cy="15.8" r="7.2" fill="#e9ad14" stroke="#3d3312" stroke-width="0.8"/><circle cx="8.1" cy="15.8" r="5.3" fill="#fbd52a"/><circle cx="8.1" cy="16" r="1.7" fill="#6d5a12"/></g>
<g transform="translate(54.2,641.2)"><path d="M0.6 13.5 C-0.6 17 2 20.5 6 21.5" fill="none" stroke="#d94a4a" stroke-width="0.5" stroke-dasharray="0.8 0.8"/><rect x="2.8" y="25" width="17.5" height="1.9" fill="#f08a1c"/><path d="M1.8 11.4 L6.5 10.4 L15.8 22.9 L15.3 25 L7 25 L4.6 18.2Z" fill="#f39a26"/><path d="M4.1 12.5 L14.3 2.35" stroke="#f39a26" stroke-width="3.2"/><path d="M6.6 10 L8.6 8" stroke="#8ea2ae" stroke-width="3.0"/><path d="M14.3 2.35 L22.1 9.85" stroke="#f39a26" stroke-width="3.0"/><path d="M17.5 5.4 L19.3 7.1" stroke="#8ea2ae" stroke-width="2.8"/><circle cx="4.1" cy="12.5" r="2.6" fill="#ee8a1a"/><circle cx="14.3" cy="2.5" r="2.9" fill="#f39a26"/><circle cx="23.1" cy="11.2" r="2.0" fill="#fff" stroke="#8fa3b0" stroke-width="1.3"/><circle cx="3" cy="23.5" r="1.2" fill="#5d6d77"/></g>
<g transform="translate(139,654.75) scale(0.9)"><path d="M-12.4 0 L12.4 0" stroke="#111" stroke-width="1.1"/><rect x="-6.4" y="-6.5" width="12.8" height="13" rx="2.4" fill="#111"/><circle cx="0" cy="0" r="3.4" fill="#fff"/><circle cx="-12.4" cy="0" r="2" fill="#111"/><circle cx="12.4" cy="0" r="2" fill="#111"/><path d="M-16 -3.5 Q-19.6 0 -16 3.5" fill="none" stroke="#111" stroke-width="1.15" stroke-linecap="round"/><path d="M16 -3.5 Q19.6 0 16 3.5" fill="none" stroke="#111" stroke-width="1.15" stroke-linecap="round"/><path d="M-18.3 -5.5 Q-22.5 0 -18.3 5.5" fill="none" stroke="#111" stroke-width="1.15" stroke-linecap="round"/><path d="M18.3 -5.5 Q22.5 0 18.3 5.5" fill="none" stroke="#111" stroke-width="1.15" stroke-linecap="round"/><path d="M-20.2 -7.7 Q-26.4 0 -20.2 7.7" fill="none" stroke="#111" stroke-width="1.15" stroke-linecap="round"/><path d="M20.2 -7.7 Q26.4 0 20.2 7.7" fill="none" stroke="#111" stroke-width="1.15" stroke-linecap="round"/></g>
<g transform="translate(95.7,676.3)"><rect x="0" y="0" width="15.5" height="27.5" rx="2" fill="#d3dee6"/><rect x="0" y="0" width="4" height="27.5" rx="1.5" fill="#e2eaf0"/><rect x="0" y="18" width="15.5" height="0.6" fill="#bfcbd4"/><path d="M6 5 L8 6" stroke="#e06070" stroke-width="0.5"/><path d="M6 19.5 L8 20.5" stroke="#e06070" stroke-width="0.5"/><rect x="4" y="27.3" width="1.6" height="1" fill="#5aa0d8"/><rect x="9.5" y="27.3" width="1.6" height="1" fill="#e05060"/></g>
<text x="132.0" y="724.5" style="font-family:&quot;Liberation Sans&quot;" font-weight="bold" font-size="13.14" fill="#111" textLength="94.54" lengthAdjust="spacingAndGlyphs">SIS, VFD, PID ...</text>
<g transform="translate(392.4,602.7)"><rect x="6.3" y="2" width="3.7" height="28" fill="#b3b3b3" stroke="#555" stroke-width="0.5"/><rect x="5.2" y="-0.1" width="5.5" height="3.9" rx="0.6" fill="#4f4f4f"/><rect x="5.2" y="28.3" width="5.5" height="3.9" rx="0.6" fill="#4f4f4f"/><path d="M13.5 12.5 L17.6 11 L17.6 21 L13.5 19.5Z" fill="#e6a817" stroke="#555" stroke-width="0.5"/><rect x="17.2" y="9.6" width="6" height="13.5" rx="1" fill="#a3a3a3" stroke="#4b4b4b" stroke-width="0.9"/><circle cx="23.9" cy="16.3" r="1" fill="#b5121b"/><circle cx="8.1" cy="15.8" r="7.2" fill="#e9ad14" stroke="#3d3312" stroke-width="0.8"/><circle cx="8.1" cy="15.8" r="5.3" fill="#fbd52a"/><circle cx="8.1" cy="16" r="1.7" fill="#6d5a12"/></g>
<g transform="translate(357.3,642.8)"><path d="M0.6 13.5 C-0.6 17 2 20.5 6 21.5" fill="none" stroke="#d94a4a" stroke-width="0.5" stroke-dasharray="0.8 0.8"/><rect x="2.8" y="25" width="17.5" height="1.9" fill="#f08a1c"/><path d="M1.8 11.4 L6.5 10.4 L15.8 22.9 L15.3 25 L7 25 L4.6 18.2Z" fill="#f39a26"/><path d="M4.1 12.5 L14.3 2.35" stroke="#f39a26" stroke-width="3.2"/><path d="M6.6 10 L8.6 8" stroke="#8ea2ae" stroke-width="3.0"/><path d="M14.3 2.35 L22.1 9.85" stroke="#f39a26" stroke-width="3.0"/><path d="M17.5 5.4 L19.3 7.1" stroke="#8ea2ae" stroke-width="2.8"/><circle cx="4.1" cy="12.5" r="2.6" fill="#ee8a1a"/><circle cx="14.3" cy="2.5" r="2.9" fill="#f39a26"/><circle cx="23.1" cy="11.2" r="2.0" fill="#fff" stroke="#8fa3b0" stroke-width="1.3"/><circle cx="3" cy="23.5" r="1.2" fill="#5d6d77"/></g>
<g transform="translate(437.9,654.6) scale(0.9)"><path d="M-12.4 0 L12.4 0" stroke="#111" stroke-width="1.1"/><rect x="-6.4" y="-6.5" width="12.8" height="13" rx="2.4" fill="#111"/><circle cx="0" cy="0" r="3.4" fill="#fff"/><circle cx="-12.4" cy="0" r="2" fill="#111"/><circle cx="12.4" cy="0" r="2" fill="#111"/><path d="M-16 -3.5 Q-19.6 0 -16 3.5" fill="none" stroke="#111" stroke-width="1.15" stroke-linecap="round"/><path d="M16 -3.5 Q19.6 0 16 3.5" fill="none" stroke="#111" stroke-width="1.15" stroke-linecap="round"/><path d="M-18.3 -5.5 Q-22.5 0 -18.3 5.5" fill="none" stroke="#111" stroke-width="1.15" stroke-linecap="round"/><path d="M18.3 -5.5 Q22.5 0 18.3 5.5" fill="none" stroke="#111" stroke-width="1.15" stroke-linecap="round"/><path d="M-20.2 -7.7 Q-26.4 0 -20.2 7.7" fill="none" stroke="#111" stroke-width="1.15" stroke-linecap="round"/><path d="M20.2 -7.7 Q26.4 0 20.2 7.7" fill="none" stroke="#111" stroke-width="1.15" stroke-linecap="round"/></g>
<g transform="translate(395.6,676)"><rect x="0" y="0" width="15.5" height="27.5" rx="2" fill="#d3dee6"/><rect x="0" y="0" width="4" height="27.5" rx="1.5" fill="#e2eaf0"/><rect x="0" y="18" width="15.5" height="0.6" fill="#bfcbd4"/><path d="M6 5 L8 6" stroke="#e06070" stroke-width="0.5"/><path d="M6 19.5 L8 20.5" stroke="#e06070" stroke-width="0.5"/><rect x="4" y="27.3" width="1.6" height="1" fill="#5aa0d8"/><rect x="9.5" y="27.3" width="1.6" height="1" fill="#e05060"/></g>
<rect x="390.6" y="644.2" width="21.8" height="21.4" fill="#fff" stroke="#444" stroke-width="0.8"/>
<use href="#plc" transform="translate(392.3,646.8) scale(0.497)"/>
<path d="M412.8 666 L474.8 713.6" fill="none" stroke="#2e2e2e" stroke-width="1.3"/>
<path d="M492.8 674.6 L492.8 697" fill="none" stroke="#2e2e2e" stroke-width="1.3"/>
<use href="#hmi" transform="translate(492.8,653.75) scale(0.69)"/>
<use href="#plc" x="475" y="697.5"/>
<text x="475.5" y="628.0" style="font-family:&quot;Liberation Sans&quot;" font-weight="bold" font-size="14.82" fill="#111" textLength="31.43" lengthAdjust="spacingAndGlyphs">HMI</text>
<text x="479.0" y="745.0" style="font-family:&quot;Liberation Sans&quot;" font-weight="bold" font-size="15.16" fill="#111" textLength="29.1" lengthAdjust="spacingAndGlyphs">PLC</text>
<g transform="translate(591,602.5)"><rect x="6.3" y="2" width="3.7" height="28" fill="#b3b3b3" stroke="#555" stroke-width="0.5"/><rect x="5.2" y="-0.1" width="5.5" height="3.9" rx="0.6" fill="#4f4f4f"/><rect x="5.2" y="28.3" width="5.5" height="3.9" rx="0.6" fill="#4f4f4f"/><path d="M13.5 12.5 L17.6 11 L17.6 21 L13.5 19.5Z" fill="#e6a817" stroke="#555" stroke-width="0.5"/><rect x="17.2" y="9.6" width="6" height="13.5" rx="1" fill="#a3a3a3" stroke="#4b4b4b" stroke-width="0.9"/><circle cx="23.9" cy="16.3" r="1" fill="#b5121b"/><circle cx="8.1" cy="15.8" r="7.2" fill="#e9ad14" stroke="#3d3312" stroke-width="0.8"/><circle cx="8.1" cy="15.8" r="5.3" fill="#fbd52a"/><circle cx="8.1" cy="16" r="1.7" fill="#6d5a12"/></g>
<g transform="translate(550,641.25)"><path d="M0.6 13.5 C-0.6 17 2 20.5 6 21.5" fill="none" stroke="#d94a4a" stroke-width="0.5" stroke-dasharray="0.8 0.8"/><rect x="2.8" y="25" width="17.5" height="1.9" fill="#f08a1c"/><path d="M1.8 11.4 L6.5 10.4 L15.8 22.9 L15.3 25 L7 25 L4.6 18.2Z" fill="#f39a26"/><path d="M4.1 12.5 L14.3 2.35" stroke="#f39a26" stroke-width="3.2"/><path d="M6.6 10 L8.6 8" stroke="#8ea2ae" stroke-width="3.0"/><path d="M14.3 2.35 L22.1 9.85" stroke="#f39a26" stroke-width="3.0"/><path d="M17.5 5.4 L19.3 7.1" stroke="#8ea2ae" stroke-width="2.8"/><circle cx="4.1" cy="12.5" r="2.6" fill="#ee8a1a"/><circle cx="14.3" cy="2.5" r="2.9" fill="#f39a26"/><circle cx="23.1" cy="11.2" r="2.0" fill="#fff" stroke="#8fa3b0" stroke-width="1.3"/><circle cx="3" cy="23.5" r="1.2" fill="#5d6d77"/></g>
<g transform="translate(631.5,655.5) scale(1.0)"><path d="M-12.4 0 L12.4 0" stroke="#111" stroke-width="1.1"/><rect x="-6.4" y="-6.5" width="12.8" height="13" rx="2.4" fill="#111"/><circle cx="0" cy="0" r="3.4" fill="#fff"/><circle cx="-12.4" cy="0" r="2" fill="#111"/><circle cx="12.4" cy="0" r="2" fill="#111"/><path d="M-16 -3.5 Q-19.6 0 -16 3.5" fill="none" stroke="#111" stroke-width="1.15" stroke-linecap="round"/><path d="M16 -3.5 Q19.6 0 16 3.5" fill="none" stroke="#111" stroke-width="1.15" stroke-linecap="round"/><path d="M-18.3 -5.5 Q-22.5 0 -18.3 5.5" fill="none" stroke="#111" stroke-width="1.15" stroke-linecap="round"/><path d="M18.3 -5.5 Q22.5 0 18.3 5.5" fill="none" stroke="#111" stroke-width="1.15" stroke-linecap="round"/><path d="M-20.2 -7.7 Q-26.4 0 -20.2 7.7" fill="none" stroke="#111" stroke-width="1.15" stroke-linecap="round"/><path d="M20.2 -7.7 Q26.4 0 20.2 7.7" fill="none" stroke="#111" stroke-width="1.15" stroke-linecap="round"/></g>
<g transform="translate(592.5,676)"><rect x="0" y="0" width="15.5" height="27.5" rx="2" fill="#d3dee6"/><rect x="0" y="0" width="4" height="27.5" rx="1.5" fill="#e2eaf0"/><rect x="0" y="18" width="15.5" height="0.6" fill="#bfcbd4"/><path d="M6 5 L8 6" stroke="#e06070" stroke-width="0.5"/><path d="M6 19.5 L8 20.5" stroke="#e06070" stroke-width="0.5"/><rect x="4" y="27.3" width="1.6" height="1" fill="#5aa0d8"/><rect x="9.5" y="27.3" width="1.6" height="1" fill="#e05060"/></g>
<text x="661.0" y="709.0" style="font-family:&quot;Liberation Sans&quot;" font-weight="bold" font-size="13.14" fill="#111" textLength="94.54" lengthAdjust="spacingAndGlyphs">SIS, VFD, PID ...</text>
</svg></body></html>
